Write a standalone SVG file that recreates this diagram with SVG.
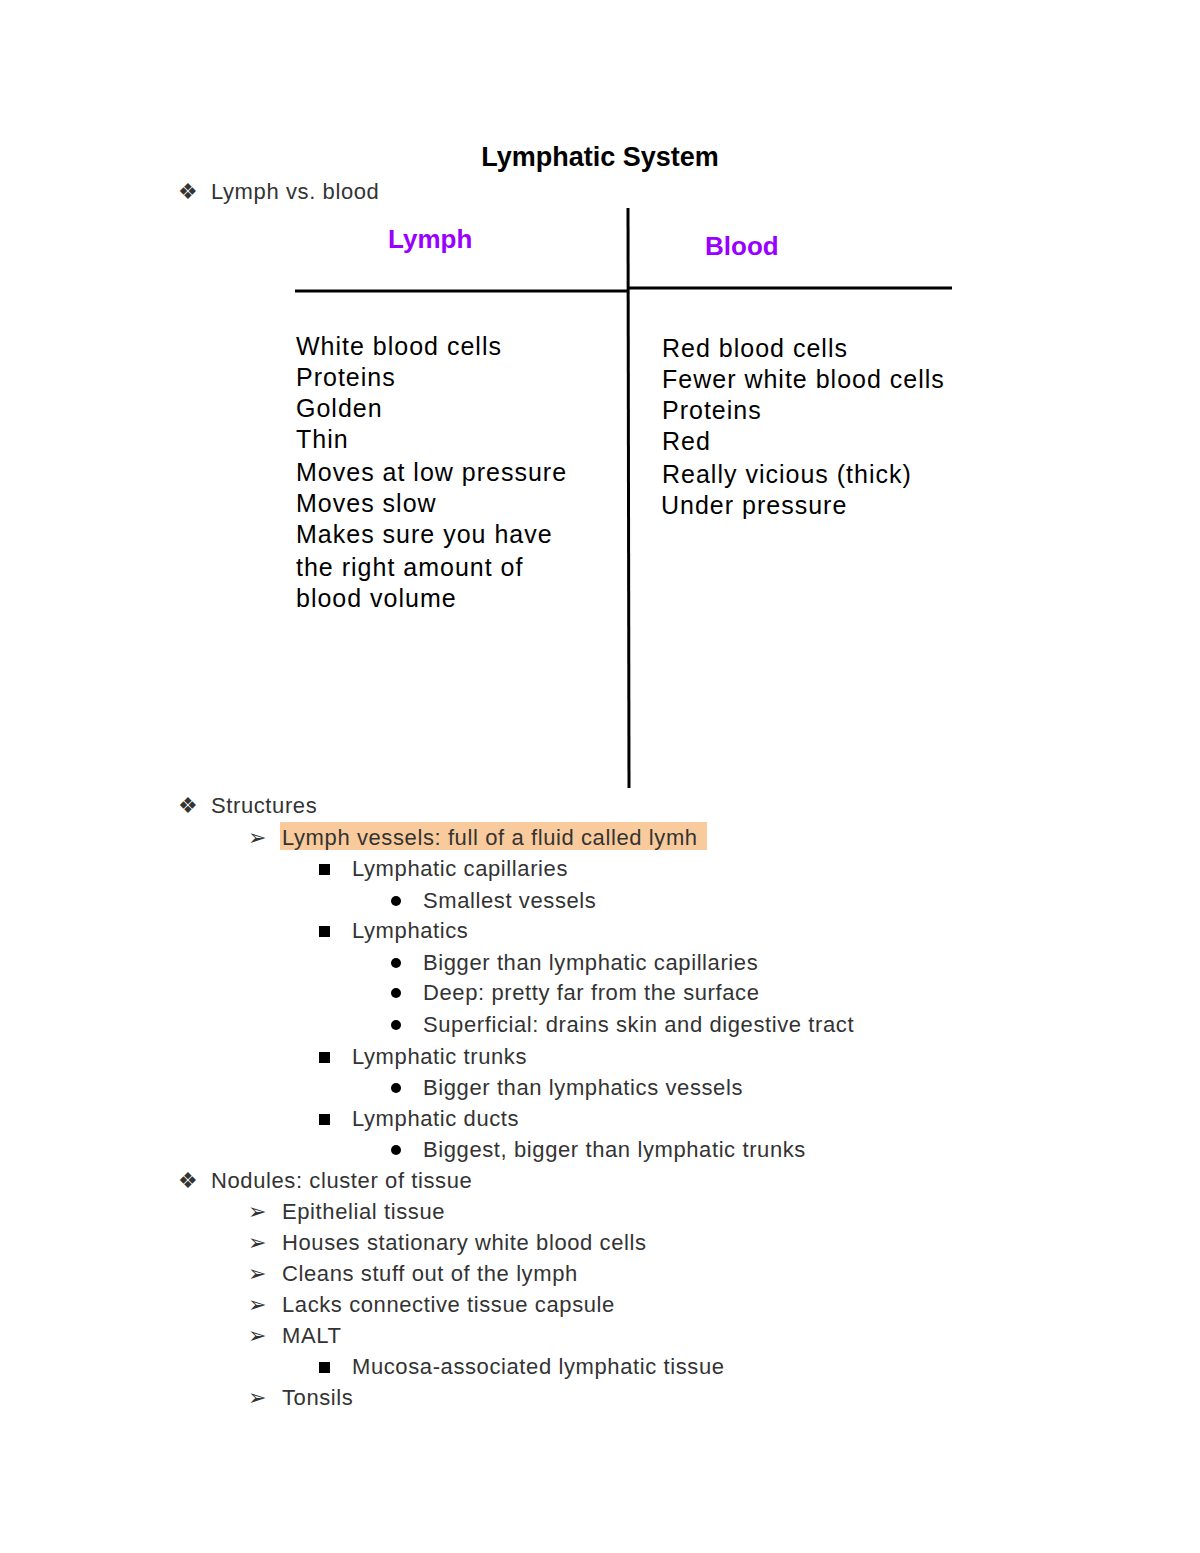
<svg xmlns="http://www.w3.org/2000/svg" width="1200" height="1553" viewBox="0 0 1200 1553">
<style>
text{font-family:"Liberation Sans",Arial,sans-serif}
.b{font-size:22px;fill:#333;letter-spacing:0.6px}
.c{font-size:25px;fill:#000;letter-spacing:1px}
.h{font-size:26px;font-weight:bold;fill:#9900ff}
.s{fill:#000}
</style>
<rect width="1200" height="1553" fill="#fff"/>
<text x="600" y="166" text-anchor="middle" font-size="27" font-weight="bold">Lymphatic System</text>
<text x="178" y="199" class="b">❖</text><text x="211" y="199" class="b">Lymph vs. blood</text>
<text x="388" y="248" class="h">Lymph</text>
<text x="705" y="255" class="h">Blood</text>
<g stroke="#000" stroke-width="3">
<line x1="295" y1="291" x2="628" y2="291"/>
<line x1="628" y1="288" x2="952" y2="288"/>
<line x1="628" y1="208" x2="629" y2="788"/>
</g>
<g class="c">
<text x="296" y="355">White blood cells</text>
<text x="296" y="386">Proteins</text>
<text x="296" y="417">Golden</text>
<text x="296" y="448">Thin</text>
<text x="296" y="481">Moves at low pressure</text>
<text x="296" y="512">Moves slow</text>
<text x="296" y="543">Makes sure you have</text>
<text x="296" y="576">the right amount of</text>
<text x="296" y="607">blood volume</text>
<text x="662" y="357">Red blood cells</text>
<text x="662" y="388">Fewer white blood cells</text>
<text x="662" y="419">Proteins</text>
<text x="662" y="450">Red</text>
<text x="662" y="483">Really vicious (thick)</text>
<text x="661" y="514">Under pressure</text>
</g>
<rect x="280" y="822" width="427" height="28" fill="#f9cb9c"/>
<g class="b">
<text x="178" y="813">❖</text><text x="211" y="813">Structures</text>
<text x="248" y="845">➢</text><text x="282" y="845">Lymph vessels: full of a fluid called lymh</text>
<text x="352" y="876">Lymphatic capillaries</text>
<text x="423" y="908">Smallest vessels</text>
<text x="352" y="938">Lymphatics</text>
<text x="423" y="970">Bigger than lymphatic capillaries</text>
<text x="423" y="1000">Deep: pretty far from the surface</text>
<text x="423" y="1032">Superficial: drains skin and digestive tract</text>
<text x="352" y="1064">Lymphatic trunks</text>
<text x="423" y="1095">Bigger than lymphatics vessels</text>
<text x="352" y="1126">Lymphatic ducts</text>
<text x="423" y="1157">Biggest, bigger than lymphatic trunks</text>
<text x="178" y="1188">❖</text><text x="211" y="1188">Nodules: cluster of tissue</text>
<text x="248" y="1219">➢</text><text x="282" y="1219">Epithelial tissue</text>
<text x="248" y="1250">➢</text><text x="282" y="1250">Houses stationary white blood cells</text>
<text x="248" y="1281">➢</text><text x="282" y="1281">Cleans stuff out of the lymph</text>
<text x="248" y="1312">➢</text><text x="282" y="1312">Lacks connective tissue capsule</text>
<text x="248" y="1343">➢</text><text x="282" y="1343">MALT</text>
<text x="352" y="1374">Mucosa-associated lymphatic tissue</text>
<text x="248" y="1405">➢</text><text x="282" y="1405">Tonsils</text>
</g>
<g class="s">
<rect x="319" y="864" width="11" height="11"/>
<rect x="319" y="926" width="11" height="11"/>
<rect x="319" y="1052" width="11" height="11"/>
<rect x="319" y="1114" width="11" height="11"/>
<rect x="319" y="1362" width="11" height="11"/>
<circle cx="396" cy="901" r="5"/>
<circle cx="396" cy="963" r="5"/>
<circle cx="396" cy="993" r="5"/>
<circle cx="396" cy="1025" r="5"/>
<circle cx="396" cy="1088" r="5"/>
<circle cx="396" cy="1150" r="5"/>
</g>
</svg>
